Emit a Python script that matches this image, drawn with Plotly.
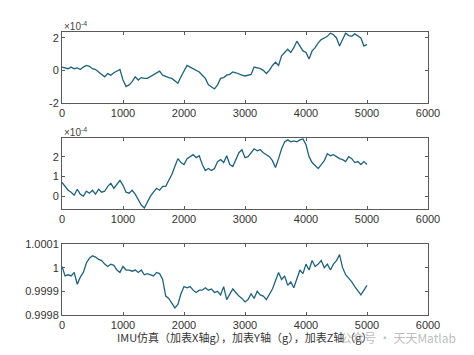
import plotly.graph_objects as go

# sample index (every 50 samples)
samples = list(range(0, 5001, 50))

# accelerometer X (units of 1e-4 g)
acc_x = [0.2, 0.15, 0.1, 0.2, 0.1, 0.15, 0.05, 0.2, 0.3, 0.25,
         0.1, 0.05, -0.1, -0.2, -0.4, -0.2, -0.3, -0.15, -0.05, 0.05,
         -0.6, -1.0, -0.9, -0.7, -0.4, -0.6, -0.45, -0.5, -0.5, -0.4,
         -0.3, -0.2, -0.05, -0.3, -0.4, -0.45, -0.5, -0.65, -0.8, -0.4,
         0.0, 0.3, 0.2, 0.1, 0.0, -0.1, -0.3, -0.5, -0.9, -1.0,
         -1.15, -0.9, -0.5, -0.45, -0.3, -0.25, -0.1, -0.15, -0.25, -0.3,
         -0.35, -0.3, -0.25, 0.2, 0.15, 0.1, 0.0, -0.2, 0.0, 0.3,
         0.5, 0.3, 0.9, 1.1, 1.3, 1.1, 1.4, 1.8, 1.5, 1.2,
         1.1, 0.7, 1.2, 1.4, 1.7, 1.9, 2.0, 2.1, 2.3, 2.2,
         2.0, 1.5, 1.9, 2.3, 2.15, 2.1, 2.25, 2.1, 2.0, 1.5,
         1.6]

# accelerometer Y (units of 1e-4 g)
acc_y = [0.7, 0.5, 0.3, 0.2, 0.05, 0.35, 0.1, 0.0, 0.25, 0.15,
         0.3, 0.1, 0.35, 0.2, 0.25, 0.5, 0.65, 0.4, 0.6, 0.8,
         0.55, 0.2, 0.15, 0.3, 0.1, -0.2, -0.45, -0.6, -0.3, 0.0,
         0.2, 0.4, 0.3, 0.5, 0.5, 0.8, 1.1, 1.5, 1.9, 1.7,
         1.6, 1.9, 2.0, 2.1, 1.95, 2.05, 1.6, 1.3, 1.4, 1.3,
         1.4, 1.75, 1.85, 1.7, 2.05, 1.6, 1.5, 1.9, 2.2, 2.35,
         1.95, 2.0, 2.2, 2.4, 2.3, 2.35, 2.2, 2.1, 2.0, 1.8,
         1.45, 1.9, 2.4, 2.75, 2.85, 2.75, 2.8, 2.75, 2.85, 2.9,
         2.6, 2.0, 1.7, 1.55, 1.4, 1.6, 1.8, 2.15, 2.05, 2.1,
         2.0, 1.9, 1.85, 1.75, 2.0, 1.9, 1.7, 1.75, 1.6, 1.75,
         1.6]

# accelerometer Z (deviation from 1 g, units of 1e-4 g)
acc_z = [0.05, -0.35, -0.3, -0.35, -0.2, -0.7, -0.4, -0.2, 0.2, 0.4,
         0.5, 0.45, 0.35, 0.3, 0.15, 0.05, 0.15, 0.1, -0.1, -0.2,
         0.05, -0.1, -0.1, -0.15, -0.1, -0.2, -0.1, -0.3, -0.25, -0.3,
         -0.35, -0.2, -0.25, -0.5, -1.2, -1.3, -1.5, -1.7, -1.55, -1.1,
         -0.8, -0.85, -0.8, -0.95, -1.05, -0.95, -0.95, -0.85, -0.95, -0.9,
         -1.05, -1.0, -1.15, -0.8, -1.35, -1.1, -0.9, -1.05, -1.2, -1.3,
         -1.45, -1.35, -1.1, -1.3, -1.0, -1.15, -1.2, -1.35, -1.1, -0.9,
         -0.55, -0.2, -0.5, -0.35, -0.75, -0.6, -0.85, -0.5, -0.1, -0.25,
         0.15, -0.1, 0.3, 0.05, 0.15, 0.3, 0.0, 0.15, -0.1, 0.15,
         0.3, 0.55, 0.0, -0.3, -0.45, -0.6, -0.8, -1.0, -1.15, -0.95,
         -0.75]

x_ticks = [0, 1000, 2000, 3000, 4000, 5000, 6000]
y1_ticks = [-2, 0, 2]
y2_ticks = [0, 1, 2]
y3_ticks = [0.9998, 0.9999, 1.0, 1.0001]
y3_labels = ["0.9998", "0.9999", "1", "1.0001"]

scale = 1e-4
line_color = "#1f6280"
axis_color = "#5a5a5a"
font_fam = "Liberation Sans, Arial, sans-serif"

# page body has an 8px margin: the figure is placed at (8, 8) in the window
OFF = 8
W, H = 474 - OFF, 355 - OFF
def px(x):
    return (x - OFF) / W
def py(y):
    return 1 - (y - OFF) / H

fig = go.Figure()
fig.add_trace(go.Scatter(x=samples, y=[v * scale for v in acc_x], mode="lines",
                         line=dict(color=line_color, width=1.3), xaxis="x", yaxis="y"))
fig.add_trace(go.Scatter(x=samples, y=[v * scale for v in acc_y], mode="lines",
                         line=dict(color=line_color, width=1.3), xaxis="x2", yaxis="y2"))
fig.add_trace(go.Scatter(x=samples, y=[1 + v * scale for v in acc_z], mode="lines",
                         line=dict(color=line_color, width=1.3), xaxis="x3", yaxis="y3"))

xdom = [px(62), px(428)]
def ydom(top, bottom):
    return [py(bottom), py(top)]

common_x = dict(range=[0, 6000], tickvals=x_ticks, showline=True, mirror="ticks",
                linecolor=axis_color, linewidth=1, ticks="inside", ticklen=3,
                tickcolor=axis_color, showgrid=False, zeroline=False, automargin=False,
                tickfont=dict(size=11, color="#333333", family=font_fam), domain=xdom)
common_y = dict(showline=True, mirror="ticks", linecolor=axis_color, linewidth=1,
                ticks="inside", ticklen=3, tickcolor=axis_color, showgrid=False,
                zeroline=False, automargin=False,
                tickfont=dict(size=11, color="#333333", family=font_fam))

fig.update_layout(
    template="none",
    width=W, height=H,
    margin=dict(l=0, r=0, t=0, b=0),
    paper_bgcolor="white", plot_bgcolor="white",
    showlegend=False,
    xaxis=dict(**common_x, anchor="y"),
    yaxis=dict(**common_y, domain=ydom(32.3, 102.7), range=[-2e-4, 2.35e-4],
               tickvals=[v * scale for v in y1_ticks], ticktext=[str(v) for v in y1_ticks],
               anchor="x"),
    xaxis2=dict(**common_x, anchor="y2"),
    yaxis2=dict(**common_y, domain=ydom(138.3, 209), range=[-0.65e-4, 2.93e-4],
                tickvals=[v * scale for v in y2_ticks], ticktext=[str(v) for v in y2_ticks],
                anchor="x2"),
    xaxis3=dict(**common_x, anchor="y3"),
    yaxis3=dict(**common_y, domain=ydom(244, 315), range=[0.9998, 1.0001],
                tickvals=y3_ticks, ticktext=y3_labels, anchor="x3"),
)

fig.add_annotation(text="×10<sup>-4</sup>", xref="paper", yref="paper",
                   x=px(62), y=py(26), xanchor="left", yanchor="middle",
                   showarrow=False, font=dict(size=10, color="#444444", family=font_fam))
fig.add_annotation(text="×10<sup>-4</sup>", xref="paper", yref="paper",
                   x=px(62), y=py(132), xanchor="left", yanchor="middle",
                   showarrow=False, font=dict(size=10, color="#444444", family=font_fam))
fig.add_annotation(text="IMU仿真（加表X轴g），加表Y轴（g），加表Z轴（g）", xref="paper", yref="paper",
                   x=px(244), y=py(337), xanchor="center", yanchor="middle",
                   showarrow=False,
                   font=dict(size=11, color="#333333", family="Noto Sans CJK SC, sans-serif"))
fig.add_annotation(text="公众号 · 天天Matlab", xref="paper", yref="paper",
                   x=px(458), y=py(337), xanchor="right", yanchor="middle",
                   showarrow=False,
                   font=dict(size=12, color="rgba(160,160,160,0.7)",
                             family="Noto Sans CJK SC, sans-serif"))

fig.write_html("out.html")
